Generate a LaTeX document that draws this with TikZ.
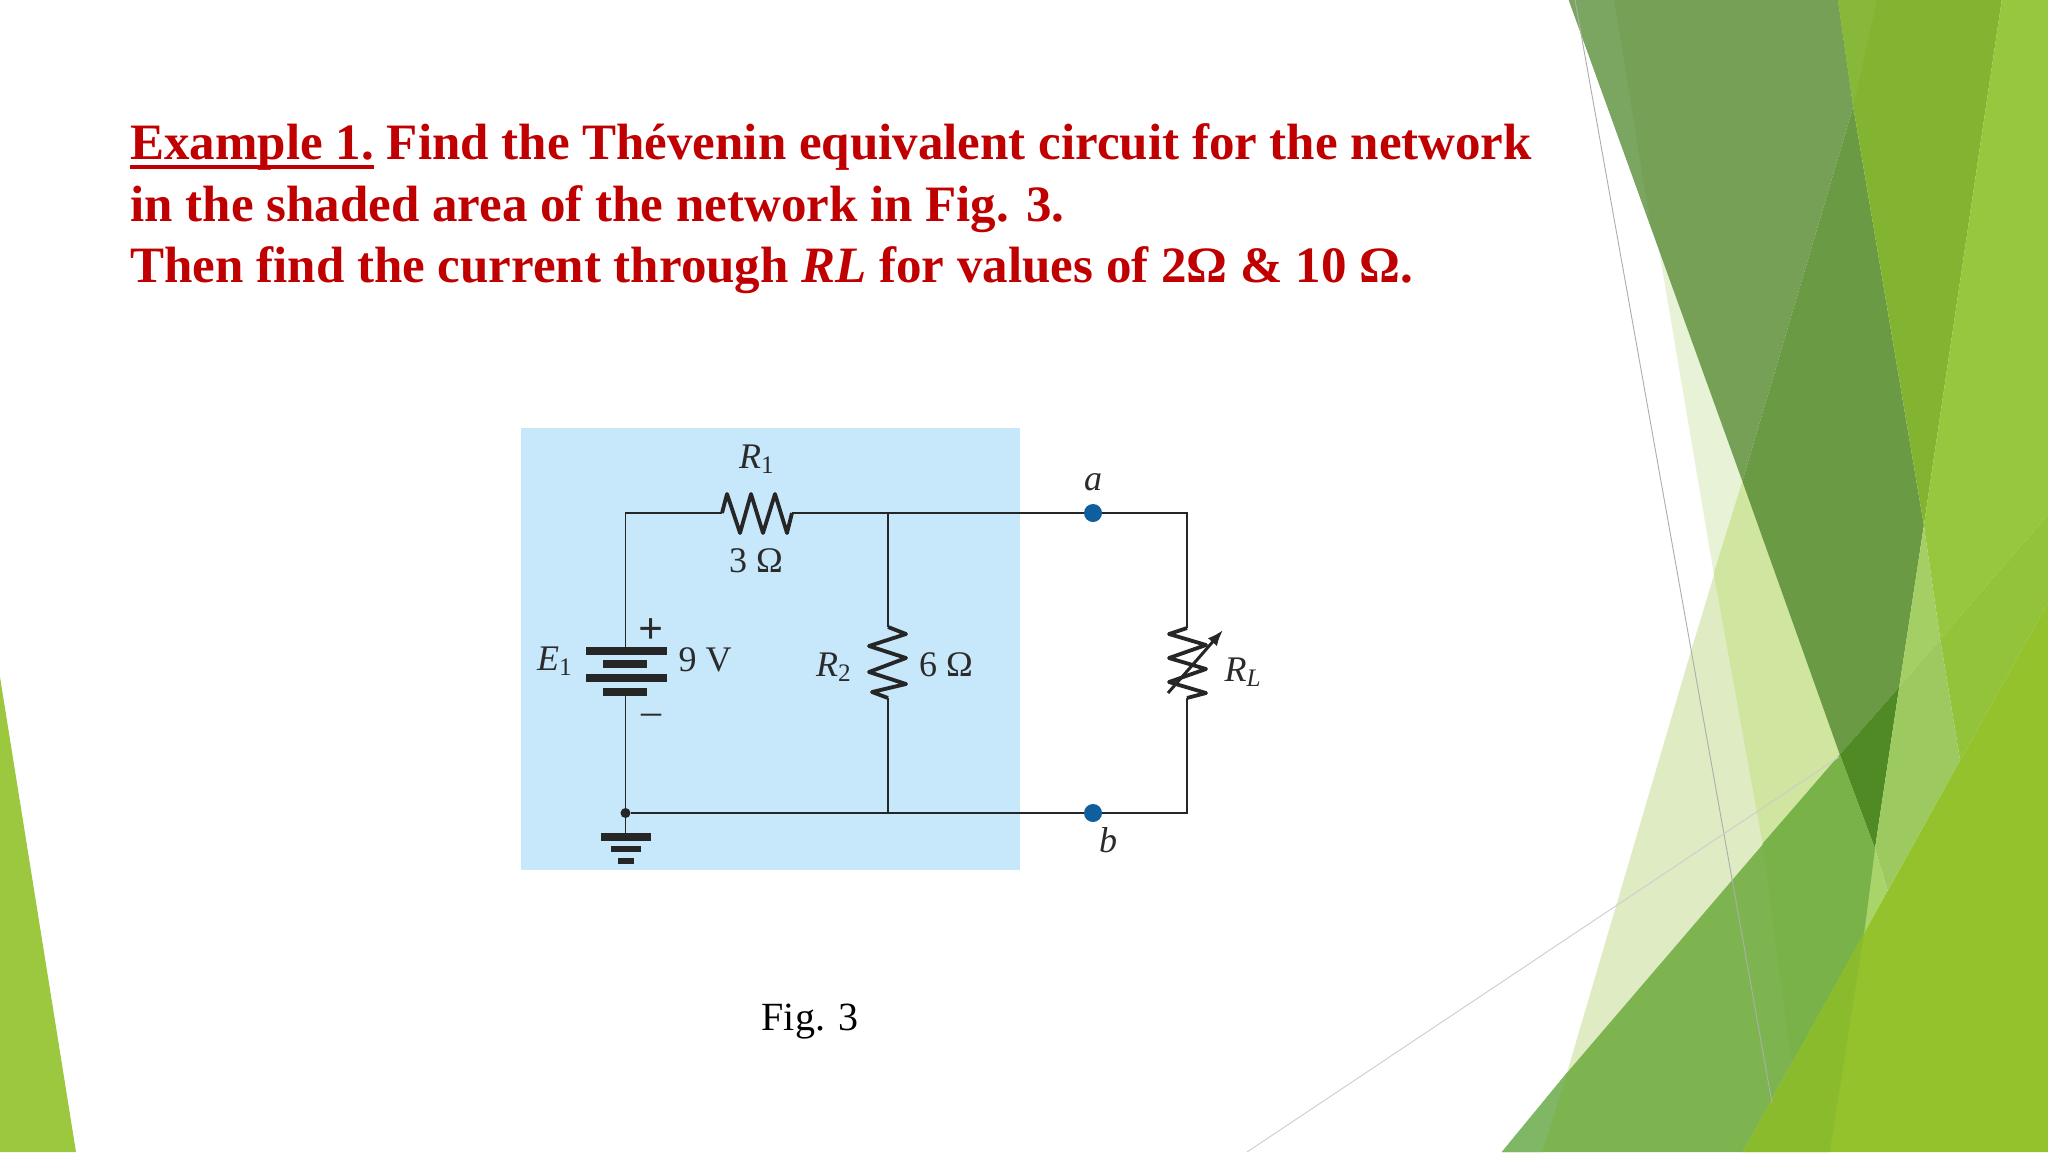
\documentclass[tikz,border=0pt]{standalone}
\usepackage{fontspec}
\setmainfont{Liberation Serif}
\usetikzlibrary{positioning, arrows.meta, calc}
\definecolor{headred}{HTML}{C00000}
\definecolor{shadeblue}{HTML}{C7E7FB}
\definecolor{dotblue}{HTML}{0F5F9F}
\definecolor{inkgrey}{HTML}{2B2B2B}
\definecolor{corner}{RGB}{156,200,63}
\definecolor{paleA}{RGB}{232,242,214}
\definecolor{paleB}{RGB}{223,235,194}
\definecolor{paleC}{RGB}{208,229,160}
\definecolor{greyA}{RGB}{118,160,86}
\definecolor{greyB}{RGB}{123,166,97}
\definecolor{darkA}{RGB}{106,154,67}
\definecolor{darkB}{RGB}{79,138,37}
\definecolor{midA}{RGB}{130,180,49}
\definecolor{midB}{RGB}{136,184,58}
\definecolor{liteA}{RGB}{151,199,63}
\definecolor{liteB}{RGB}{147,195,58}
\definecolor{softA}{RGB}{163,207,100}
\definecolor{softB}{RGB}{157,201,97}
\definecolor{softC}{RGB}{168,213,106}
\definecolor{lowA}{RGB}{125,180,80}
\definecolor{lowB}{RGB}{128,183,101}
\definecolor{lowC}{RGB}{120,178,73}
\definecolor{baseA}{RGB}{147,194,45}
\definecolor{baseB}{RGB}{138,187,45}
\tikzset{wire/.style={line width=0.55pt,color=black!85}}
\tikzset{coil/.style={line width=1.9pt,color=black!85,line join=round}}
\tikzset{plate/.style={line width=3.8pt,color=black!85}}
\tikzset{hairline/.style={line width=0.45pt}}
\tikzset{headtext/.style={anchor=base west,inner sep=0pt,text=headred,font=\fontsize{25.5}{30}\selectfont\bfseries}}
\tikzset{partlabel/.style={inner sep=0pt,text=inkgrey,font=\fontsize{18}{20}\selectfont}}
\tikzset{terminal/.style={circle,fill=dotblue,inner sep=0pt,minimum size=9pt}}

\begin{document}
\begin{tikzpicture}[x=0.5pt,y=-0.5pt]
    \useasboundingbox (0,0) rectangle (2048,1152);
    % left corner
    \fill[white] (0,0) rectangle (2048,1152);
    \fill[corner] (0,677) -- (76,1152) -- (0,1152) -- cycle;

    % facets on the right
    \begin{scope}[shift={(1480,0)},x=0.18116pt,y=-0.36738pt]
        \fill[paleA] (494,340) -- (724,655) -- (645,780) -- cycle;
        \fill[paleB] (724,655) -- (993,1027) -- (692,1200) -- (240,1460) -- (580,890) -- cycle;
        \fill[paleC] (645,780) -- (724,655) -- (993,1027) -- (780,1148) -- cycle;
        \fill[greyA] (245,0) -- (988,0) -- (1030,145) -- (724,655) -- cycle;
        \fill[greyB] (245,0) -- (370,0) -- (470,305) -- cycle;
        \fill[darkA] (1030,145) -- (1225,715) -- (1157,935) -- (993,1027) -- (724,655) -- cycle;
        \fill[darkB] (993,1027) -- (1157,935) -- (1090,1155) -- cycle;
        \fill[midA] (988,0) -- (1440,0) -- (1225,715) -- (1030,145) -- cycle;
        \fill[midB] (988,0) -- (1095,0) -- (1030,145) -- cycle;
        \fill[liteA] (1440,0) -- (1568,0) -- (1568,700) -- (1270,870) -- (1225,715) -- cycle;
        \fill[liteB] (1568,700) -- (1568,820) -- (1325,1035) -- (1270,870) -- cycle;
        \fill[softA] (1225,715) -- (1270,870) -- (1157,935) -- cycle;
        \fill[softB] (1157,935) -- (1270,870) -- (1325,1035) -- (1125,1212) -- (1090,1155) -- cycle;
        \fill[softC] (1090,1155) -- (1125,1212) -- (1060,1270) -- cycle;
        \fill[lowA] (993,1027) -- (1090,1155) -- (1060,1270) -- (725,1568) -- (60,1568) -- (240,1460) -- (692,1200) -- cycle;
        \fill[lowC] (780,1148) -- (993,1027) -- (1090,1155) -- (1060,1270) -- (860,1447) -- cycle;
        \fill[lowB] (60,1568) -- (240,1460) -- (172,1568) -- cycle;
        \fill[baseA] (1568,820) -- (1568,1568) -- (725,1568) -- (1060,1270) -- (1325,1035) -- cycle;
        \fill[baseB] (725,1568) -- (965,1568) -- (1060,1270) -- cycle;
    \end{scope}
    \draw[hairline,color=black!32] (1575,0) -- (1772,1103);
    \draw[hairline,color=black!20] (1247,1152) -- (1839,757);

    % heading
    \node[headtext] (exa) at (130,159) {Example 1.};
    \node[headtext] (exb) at ([xshift=6pt]exa.base east) {Find the Thévenin equivalent circuit for the network};
    \node[headtext] (exc) at (130,221) {in the shaded area of the network in Fig. 3.};
    \node[headtext] (exd) at (130,282) {Then find the current through \textit{RL} for values of 2Ω \& 10 Ω.};
    \draw[color=headred,line width=2.3pt] ($(exa.base west)+(0,8)$) -- ($(exa.base east)+(0,8)$);

    % shaded network
    \fill[shadeblue] (521,428) rectangle (1020,870);

    \coordinate (tl) at (625.5,513);
    \coordinate (bl) at (625.5,813);
    \coordinate (r1l) at (722,513);
    \coordinate (r1r) at (792,513);
    \coordinate (tm) at (888,513);
    \coordinate (bm) at (888,813);
    \coordinate (r2t) at (888,627);
    \coordinate (r2b) at (888,698);
    \coordinate (tr) at (1187,513);
    \coordinate (br) at (1187,813);
    \coordinate (rlt) at (1187,628);
    \coordinate (rlb) at (1187,698);
    \coordinate (bt) at (625.5,651);
    \coordinate (bb) at (625.5,692);
    \coordinate (gt) at (625.5,837);
    \node[terminal] (a) at (1093,513) {};
    \node[terminal] (b) at (1093,813) {};
    \node[circle,fill=black!85,inner sep=0pt,minimum size=5pt] (gnd) at (bl) {};

    % wires
    \draw[wire] (bt) -- (tl) -- (r1l);
    \draw[wire] (r1r) -- (tm) -- (a) -- (tr) -- (rlt);
    \draw[wire] (tm) -- (r2t);
    \draw[wire] (r2b) -- (bm);
    \draw[wire] (rlb) -- (br) -- (b) -- (bm) -- (gnd) -- (bb);
    \draw[wire] (gnd) -- (gt);

    % resistors
    \draw[coil] (r1l) -- (727,494) -- (740,533) -- (751,494) -- (763,533) -- (775,494) -- (787,533) -- (r1r);
    \draw[coil] (r2t) -- (906,634) -- (869,646) -- (906,658) -- (869,672) -- (906,684) -- (872,692) -- (r2b);
    \draw[coil] (rlt) -- (1169,634) -- (1206,645) -- (1169,658) -- (1206,669) -- (1169,682) -- (1206,693) -- (rlb);
    \coordinate (arrowtail) at (1168,693);
    \coordinate (arrowhead) at (1223,630);
    \draw[-{Latex[length=8pt,width=6pt]},line width=1.5pt,color=black!85] (arrowtail) -- (arrowhead);

    % battery and ground
    \draw[plate] (586,651) -- (667,651);
    \draw[plate] (603,664) -- (647,664);
    \draw[plate] (586,678) -- (667,678);
    \draw[plate] (603,692) -- (647,692);
    \draw[plate] (601,837) -- (651,837);
    \draw[plate,line width=3pt] (611,849) -- (641,849);
    \draw[plate,line width=3pt] (618,861) -- (634,861);

    % labels
    \node[partlabel] (la) at (1093,482) {\textit{a}};
    \node[partlabel] (lb) at (1108,840) {\textit{b}};
    \node[partlabel] (lr1) at (757,459) {\textit{R}\textsubscript{1}};
    \node[partlabel] (lr1v) at (756,561) {3 Ω};
    \node[partlabel] (le1) at (555,661) {\textit{E}\textsubscript{1}};
    \node[partlabel] (lbv) at (705,660) {9 V};
    \node[partlabel,font=\fontsize{22}{24}\selectfont\bfseries] (lplus) at (651,631) {+};
    \node[partlabel,font=\fontsize{20}{24}\selectfont] (lminus) at (651,719) {–};
    \node[partlabel] (lr2) at (834,667) {\textit{R}\textsubscript{2}};
    \node[partlabel] (lr2v) at (946,665) {6 Ω};
    \node[partlabel] (lrl) at (1243,672) {\textit{R}\textsubscript{\textit{L}}};
    \node[partlabel,text=black,font=\fontsize{20}{24}\selectfont] (figcap) at (810,1022) {Fig. 3};
\end{tikzpicture}
\end{document}
